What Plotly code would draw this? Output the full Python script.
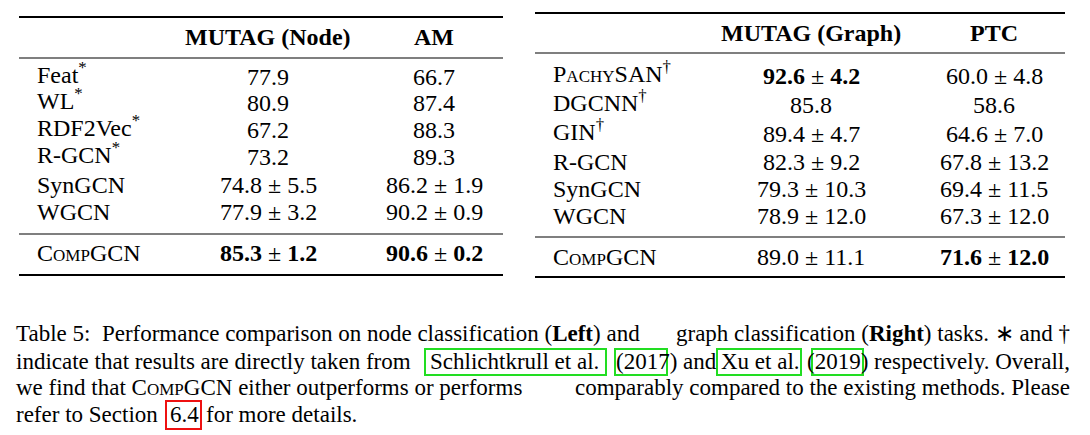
import plotly.graph_objects as go

SC = lambda s, small=17: "".join(
    c if c.isupper() else f'<span style="font-size:{small}px">{c.upper()}</span>' for c in s)
COMP = SC("CompGCN")

left_headers = ["MUTAG (Node)", "AM"]
left_methods = ["Feat<sup>*</sup>", "WL<sup>*</sup>", "RDF2Vec<sup>*</sup>", "R-GCN<sup>*</sup>", "SynGCN", "WGCN"]
left_mutag = ["77.9", "80.9", "67.2", "73.2", "74.8 ± 5.5", "77.9 ± 3.2"]
left_am = ["66.7", "87.4", "88.3", "89.3", "86.2 ± 1.9", "90.2 ± 0.9"]
left_comp = ["<b>85.3</b> ± <b>1.2</b>", "<b>90.6</b> ± <b>0.2</b>"]

right_headers = ["MUTAG (Graph)", "PTC"]
right_methods = [SC("PachySAN") + "<sup>†</sup>", "DGCNN<sup>†</sup>", "GIN<sup>†</sup>", "R-GCN", "SynGCN", "WGCN"]
right_mutag = ["<b>92.6</b> ± <b>4.2</b>", "85.8", "89.4 ± 4.7", "82.3 ± 9.2", "79.3 ± 10.3", "78.9 ± 12.0"]
right_ptc = ["60.0 ± 4.8", "58.6", "64.6 ± 7.0", "67.8 ± 13.2", "69.4 ± 11.5", "67.3 ± 12.0"]
right_comp = ["89.0 ± 11.1", "<b>71.6</b> ± <b>12.0</b>"]

# caption segments: (text, x, anchor) per line
caption_lines = [
    [("Table 5:  Performance comparison on node classification (<b>Left</b>) and", 14, "left"),
     ("graph classification (<b>Right</b>) tasks. ∗ and †", 1072, "right")],
    [("indicate that results are directly taken from", 14, "left"),
     ("Schlichtkrull et al.", 428, "left"), ("(2017) and", 614, "left"),
     ("Xu et al.", 719, "left"), ("(2019) respectively. Overall,", 1072, "right")],
    [("we find that " + SC("CompGCN", 17) + " either outperforms or performs", 14, "left"),
     ("comparably compared to the existing methods. Please", 1072, "right")],
    [("refer to Section", 14, "left"), ("6.4", 168, "left"), ("for more details.", 204, "left")],
]

FONT = "Liberation Serif, Times New Roman, serif"
fig = go.Figure()
anns = []
shapes = []

def txt(x, y, t, anchor="center", size=24):
    anns.append(dict(x=x, y=y, xref="x", yref="y", text=t, showarrow=False,
                     xanchor=anchor, yanchor="middle", yshift=4 if "<sup>" in t else 0,
                     font=dict(family=FONT, size=size, color="black")))

def hline(x0, x1, y, w):
    shapes.append(dict(type="line", xref="x", yref="y", x0=x0, x1=x1, y0=y, y1=y,
                       line=dict(color="black", width=w)))

def table(x0, x1, mx, c1, c2, ys, hy, comp_y, lines, headers, methods, v1, v2, comp):
    hline(x0, x1, lines[0], 2)
    hline(x0, x1, lines[1], 1.2)
    hline(x0, x1, lines[2], 1.2)
    hline(x0, x1, lines[3], 2)
    txt(c1, hy, f"<b>{headers[0]}</b>")
    txt(c2, hy, f"<b>{headers[1]}</b>")
    for m, a, b, y in zip(methods, v1, v2, ys):
        txt(mx, y, m, "left")
        txt(c1, y, a)
        txt(c2, y, b)
    txt(mx, comp_y, COMP, "left")
    txt(c1, comp_y, comp[0])
    txt(c2, comp_y, comp[1])

table(19, 503, 35, 268, 434, [77, 103, 130, 157, 185, 212], 37, 253,
      [17, 58, 234, 275], left_headers, left_methods, left_mutag, left_am, left_comp)
table(535, 1065, 551, 811, 994, [76, 105, 134, 162, 189, 216], 33, 257,
      [13, 53, 237, 277], right_headers, right_methods, right_mutag, right_ptc, right_comp)

for i, segs in enumerate(caption_lines):
    y = [333, 361, 387, 414][i]
    for t, x, a in segs:
        txt(x, y, t, a, size=23)

for (bx0, bx1, by0, by1, col) in [(425, 606, 349, 375, "#22dd22"), (615, 667, 349, 375, "#22dd22"),
                                  (717, 801, 349, 375, "#22dd22"), (812, 863, 349, 375, "#22dd22"),
                                  (166, 201, 401, 429, "#ee1111")]:
    shapes.append(dict(type="rect", xref="x", yref="y", x0=bx0, x1=bx1, y0=by0, y1=by1,
                       line=dict(color=col, width=2)))

fig.update_layout(width=1090, height=435, margin=dict(l=0, r=0, t=0, b=0),
                  paper_bgcolor="white", plot_bgcolor="white",
                  xaxis=dict(range=[8, 1098], visible=False, fixedrange=True),
                  yaxis=dict(range=[443, 8], visible=False, fixedrange=True),
                  annotations=anns, shapes=shapes, showlegend=False)
fig.write_html("out.html", config={"displayModeBar": False})
